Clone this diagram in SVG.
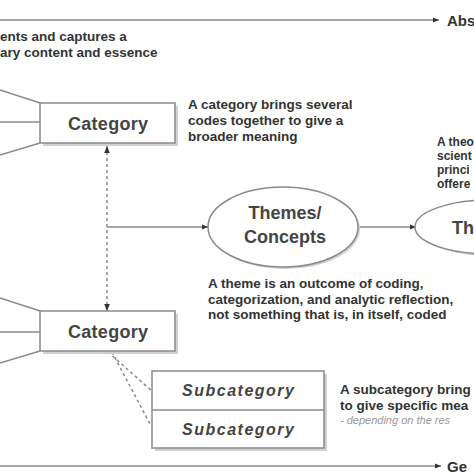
<svg xmlns="http://www.w3.org/2000/svg" width="474" height="474" viewBox="0 0 474 474">
<defs>
<style>
.ln{stroke:#8a8a8a;stroke-width:1.5;fill:none}
.dash{stroke:#8a8a8a;stroke-width:1.5;fill:none;stroke-dasharray:3,3}
.box{fill:#fff;stroke:#8a8a8a;stroke-width:1.5}
.shadow{fill:#d0d0d0}
.ann{font-family:"Liberation Sans",Arial,sans-serif;font-weight:bold;font-size:13.5px;fill:#333}
.ann2{font-family:"Liberation Sans",Arial,sans-serif;font-weight:bold;font-size:12px;fill:#333}
.lbl{font-family:"Liberation Sans",Arial,sans-serif;font-weight:bold;font-size:18px;fill:#444;text-anchor:middle}
.sub{font-family:"Liberation Sans",Arial,sans-serif;font-weight:bold;font-style:italic;font-size:16px;fill:#444;text-anchor:middle}
.axis{font-family:"Liberation Sans",Arial,sans-serif;font-weight:bold;font-size:15px;fill:#333}
.note{font-family:"Liberation Sans",Arial,sans-serif;font-style:italic;font-size:11px;fill:#999}
</style>
<marker id="ah" viewBox="0 0 10 10" refX="10" refY="5" markerWidth="6" markerHeight="6" orient="auto-start-reverse" markerUnits="userSpaceOnUse">
<path d="M0,1 L10,5 L0,9 z" fill="#333"/>
</marker>
<marker id="ahd" viewBox="0 0 10 10" refX="10" refY="5" markerWidth="7" markerHeight="7" orient="auto-start-reverse" markerUnits="userSpaceOnUse">
<path d="M0,1 L10,5 L0,9 z" fill="#333"/>
</marker>
</defs>
<rect width="474" height="474" fill="#fff"/>

<g id="connectors">
<line class="ln" x1="0" y1="20" x2="439" y2="20" marker-end="url(#ah)"/>
<line class="ln" x1="0" y1="466" x2="441" y2="466" marker-end="url(#ah)"/>
<line class="ln" x1="0" y1="90" x2="40" y2="103"/>
<line class="ln" x1="0" y1="122" x2="40" y2="122"/>
<line class="ln" x1="0" y1="155" x2="40" y2="143"/>
<line class="ln" x1="0" y1="298" x2="40" y2="311"/>
<line class="ln" x1="0" y1="332" x2="40" y2="332"/>
<line class="ln" x1="0" y1="363" x2="40" y2="351"/>
<line class="dash" x1="107" y1="146" x2="107" y2="311" marker-start="url(#ahd)" marker-end="url(#ahd)"/>
<line class="ln" x1="107" y1="227" x2="208" y2="227" marker-end="url(#ah)"/>
<line class="ln" x1="358" y1="227" x2="416" y2="227" marker-end="url(#ah)"/>
<line class="dash" x1="108" y1="352" x2="153" y2="392"/>
<line class="dash" x1="112" y1="352" x2="151" y2="426"/>
</g>

<g id="top-text">
<text class="ann" x="0" y="41">ents and captures a</text>
<text class="ann" x="0" y="57">ary content and essence</text>
</g>

<g id="category-top">
<rect class="shadow" x="43" y="106" width="135" height="40"/>
<rect class="box" x="40" y="103" width="135" height="40"/>
<text class="lbl" x="108" y="130" textLength="80">Category</text>
</g>

<g id="category-top-note">
<text class="ann" x="188" y="109">A category brings several</text>
<text class="ann" x="188" y="125">codes together to give a</text>
<text class="ann" x="188" y="141">broader meaning</text>
</g>

<g id="themes">
<ellipse cx="285" cy="229" rx="75" ry="40" fill="#d0d0d0"/>
<ellipse cx="283" cy="227" rx="75" ry="40" fill="#fff" stroke="#8a8a8a" stroke-width="1.5"/>
<text class="lbl" x="285" y="219">Themes/</text>
<text class="lbl" x="285" y="243">Concepts</text>
</g>

<g id="themes-note">
<text class="ann" x="208" y="288">A theme is an outcome of coding,</text>
<text class="ann" x="208" y="304">categorization, and analytic reflection,</text>
<text class="ann" x="208" y="319">not something that is, in itself, coded</text>
</g>

<g id="theory">
<ellipse cx="492" cy="229" rx="75" ry="27" fill="#d0d0d0"/>
<ellipse cx="490" cy="227" rx="75" ry="27" fill="#fff" stroke="#8a8a8a" stroke-width="1.5"/>
<text class="lbl" x="452" y="234" style="text-anchor:start">Th</text>
</g>

<g id="theory-note">
<text class="ann2" x="437" y="146">A theo</text>
<text class="ann2" x="437" y="160">scient</text>
<text class="ann2" x="437" y="174">princi</text>
<text class="ann2" x="437" y="188">offere</text>
</g>

<g id="category-bottom">
<rect class="shadow" x="43" y="314" width="135" height="40"/>
<rect class="box" x="40" y="311" width="135" height="40"/>
<text class="lbl" x="108" y="338" textLength="80">Category</text>
</g>

<g id="subcategories">
<rect class="shadow" x="155" y="374" width="172" height="77"/>
<rect class="box" x="152" y="371" width="172" height="77"/>
<line class="ln" x1="152" y1="410" x2="324" y2="410"/>
<text class="sub" x="238" y="396" textLength="112">Subcategory</text>
<text class="sub" x="238" y="435" textLength="112">Subcategory</text>
</g>

<g id="subcategory-note">
<text class="ann" x="340" y="394">A subcategory bring</text>
<text class="ann" x="340" y="410">to give specific mea</text>
<text class="note" x="340" y="424">- depending on the res</text>
</g>

<g id="axes">
<text class="axis" x="447" y="26">Abs</text>
<text class="axis" x="447" y="472">Ge</text>
</g>
</svg>
